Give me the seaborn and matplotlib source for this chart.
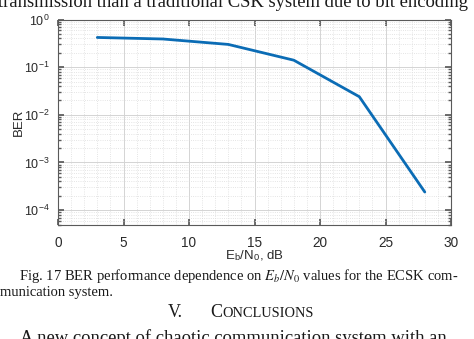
import matplotlib
matplotlib.use("Agg")
import matplotlib.pyplot as plt
from matplotlib.ticker import MultipleLocator, LogLocator, NullFormatter
import seaborn as sns
import pandas as pd

# Eb/N0 sweep (dB) and measured bit error rate of the ECSK system
ebn0_db = [3, 8, 13, 18, 23, 28]
ber = [0.42, 0.39, 0.30, 0.14, 0.024, 2.4e-4]

x_ticks = [0, 5, 10, 15, 20, 25, 30]

sns.set_theme(style="ticks")
plt.rcParams["font.family"] = ["Liberation Sans", "DejaVu Sans"]
plt.rcParams["mathtext.fontset"] = "stix"
plt.rcParams["axes.unicode_minus"] = False

df = pd.DataFrame({"ebn0": ebn0_db, "ber": ber})

W, H = 474, 339
fig = plt.figure(figsize=(W / 100, H / 100), dpi=100)
ax = fig.add_axes([58 / W, 1 - 224.5 / H, (451 - 58) / W, (224.5 - 19.5) / H])

sns.lineplot(data=df, x="ebn0", y="ber", ax=ax, color="#0b6cb5", lw=2.0)

ax.set_yscale("log")
ax.set_xlim(0, 30)
ax.set_ylim(5e-5, 1)
ax.set_xticks(x_ticks)
ax.xaxis.set_minor_locator(MultipleLocator(1))
ax.yaxis.set_major_locator(LogLocator(base=10, numticks=10))
ax.yaxis.set_minor_locator(LogLocator(base=10, subs=range(2, 10), numticks=20))
ax.yaxis.set_minor_formatter(NullFormatter())

ax.grid(which="major", color="#d4d4d4", lw=0.7, ls="-")
ax.grid(which="minor", color="#dcdcdc", lw=0.6, ls=":")
ax.set_axisbelow(True)

frame_col = "#5a5a5a"
for s in ax.spines.values():
    s.set_color(frame_col)
    s.set_linewidth(0.8)

ax.tick_params(which="both", direction="in", top=True, right=True,
               colors=frame_col, labelcolor="#2a2a2a")
ax.tick_params(axis="x", which="major", length=4, pad=8, labelsize=9.8)
ax.tick_params(axis="x", which="minor", length=0)
ax.tick_params(axis="y", which="major", length=4, pad=6, labelsize=9)
ax.tick_params(axis="y", which="minor", length=2)

ax.set_xlabel(r"E$_\mathdefault{b}$/N$_\mathdefault{0}$, dB", fontsize=9.5,
              color="#2a2a2a", labelpad=-1)
ax.set_ylabel("BER", fontsize=9.5, color="#2a2a2a")
ax.yaxis.set_label_coords((25 - 58) / (451 - 58), 0.5)

# Surrounding paper text
serif = ["Liberation Serif", "DejaVu Serif"]
tc = "#1a1a1a"
fig.text(-2 / W, 1 - 7 / H, "transmission than a traditional CSK system due to bit encoding",
         family=serif, fontsize=13.4, color=tc, va="baseline", ha="left")
fig.text(19 / W, 1 - 280 / H,
         r"Fig. 17 BER performance dependence on $E_b/N_0$ values for the ECSK com-",
         family=serif, fontsize=10.5, color=tc, va="baseline", ha="left")
fig.text(0 / W, 1 - 296 / H, "munication system.",
         family=serif, fontsize=10.5, color=tc, va="baseline", ha="left")
fig.text(168 / W, 1 - 317 / H, "V.", family=serif, fontsize=13, color=tc,
         va="baseline", ha="left")
fig.text(210 / W, 1 - 317 / H, "C", family=serif, fontsize=13, color=tc,
         va="baseline", ha="left")
fig.text(222 / W, 1 - 317 / H, "ONCLUSIONS", family=serif, fontsize=10.4, color=tc,
         va="baseline", ha="left")
fig.text(20 / W, 1 - 343 / H, "A new concept of chaotic communication system with an",
         family=serif, fontsize=13.4, color=tc, va="baseline", ha="left")

fig.savefig("out.png", dpi=100)
